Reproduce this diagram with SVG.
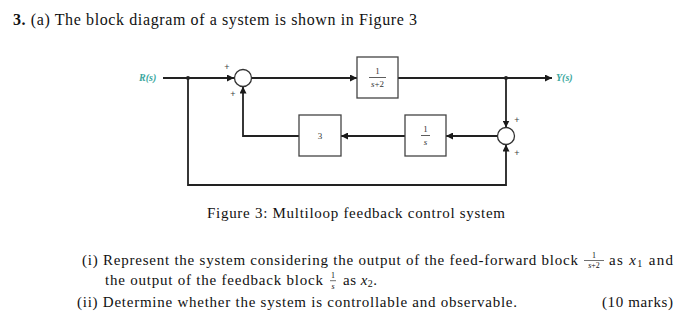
<svg xmlns="http://www.w3.org/2000/svg" width="689" height="318" viewBox="0 0 689 318">
<defs>
<marker id="ah" viewBox="0 0 10 10" refX="10" refY="5" markerWidth="7" markerHeight="7" markerUnits="userSpaceOnUse" orient="auto">
<path d="M0,0 L10,5 L0,10 z" fill="#1a1a1a"/>
</marker>
<style>
.t{font-family:"Liberation Serif","Times New Roman",serif;fill:#111}
.body{font-size:15px}
.ln{stroke:#222;stroke-width:1.8;fill:none}
.blk{stroke:#444;stroke-width:1.3;fill:#fff}
.sum{stroke:#333;stroke-width:1.3;fill:#fff}
.sig{font-family:"Liberation Serif","Times New Roman",serif;font-style:italic;font-weight:bold;font-size:10px;fill:#3aa79e}
.bt{font-family:"Liberation Serif","Times New Roman",serif;font-size:9px;fill:#333;text-anchor:middle}
.pl{font-family:"Liberation Sans",Arial,sans-serif;font-size:9px;fill:#444;text-anchor:middle}
</style>
</defs>
<rect width="689" height="318" fill="#fff"/>

<text class="t" x="13" y="25" font-size="16" textLength="404" lengthAdjust="spacing"><tspan font-weight="bold">3.</tspan> (a) The block diagram of a system is shown in Figure 3</text>

<g id="connectors">
<path class="ln" d="M163,78 H234" marker-end="url(#ah)"/>
<path class="ln" d="M251.5,78 H357" marker-end="url(#ah)"/>
<path class="ln" d="M398,78 H552" marker-end="url(#ah)"/>
<path class="ln" d="M506,78 V127.5" marker-end="url(#ah)"/>
<path class="ln" d="M497.5,136 H446" marker-end="url(#ah)"/>
<path class="ln" d="M405,136 H341" marker-end="url(#ah)"/>
<path class="ln" d="M299,136 H243 V86.5" marker-end="url(#ah)"/>
<path class="ln" d="M188,78 V185 H506 V144.5" marker-end="url(#ah)"/>
<circle cx="188" cy="78" r="2" fill="#222"/>
<circle cx="506" cy="78" r="2" fill="#222"/>
</g>

<g id="input"><text class="sig" x="139" y="81">R(s)</text></g>
<g id="output"><text class="sig" x="556" y="81">Y(s)</text></g>

<g id="sum1">
<circle class="sum" cx="243" cy="78" r="8.5"/>
<text class="pl" x="227" y="70">+</text>
<text class="pl" x="233" y="97">+</text>
</g>

<g id="block-ff">
<rect class="blk" x="357" y="57" width="41" height="41"/>
<text class="bt" x="377.5" y="74">1</text>
<line x1="369" y1="77.5" x2="386" y2="77.5" stroke="#333" stroke-width="0.8"/>
<text class="bt" x="377.5" y="87" font-style="italic">s<tspan font-style="normal">+2</tspan></text>
</g>

<g id="sum2">
<circle class="sum" cx="506" cy="136" r="8.5"/>
<text class="pl" x="517" y="123">+</text>
<text class="pl" x="517" y="156">+</text>
</g>

<g id="block-int">
<rect class="blk" x="405" y="115" width="41" height="41"/>
<text class="bt" x="425.5" y="132">1</text>
<line x1="421" y1="135.5" x2="430" y2="135.5" stroke="#333" stroke-width="0.8"/>
<text class="bt" x="425.5" y="145" font-style="italic">s</text>
</g>

<g id="block-gain">
<rect class="blk" x="299" y="115" width="42" height="41"/>
<text class="bt" x="320" y="139">3</text>
</g>

<text class="t" x="207" y="218" font-size="15" textLength="298" lengthAdjust="spacing">Figure 3: Multiloop feedback control system</text>

<g id="question">
<text class="t body" x="82" y="265" textLength="496" lengthAdjust="spacing">(i) Represent the system considering the output of the feed-forward block</text>
<text class="t" x="594" y="258" font-size="8" text-anchor="middle">1</text>
<line x1="584" y1="260.5" x2="604" y2="260.5" stroke="#111" stroke-width="0.6"/>
<text class="t" x="594" y="268" font-size="8" text-anchor="middle"><tspan font-style="italic">s</tspan>+2</text>
<text class="t body" x="609" y="265" textLength="64" lengthAdjust="spacing">as <tspan font-style="italic">x</tspan><tspan font-size="10" dy="2">1</tspan><tspan dy="-2"> and</tspan></text>

<text class="t body" x="105" y="285" textLength="218" lengthAdjust="spacing">the output of the feedback block</text>
<text class="t" x="333" y="278" font-size="8" text-anchor="middle">1</text>
<line x1="330" y1="280.7" x2="336" y2="280.7" stroke="#111" stroke-width="0.6"/>
<text class="t" x="333" y="289" font-size="8" text-anchor="middle" font-style="italic">s</text>
<text class="t body" x="343" y="285" textLength="34" lengthAdjust="spacing">as <tspan font-style="italic">x</tspan><tspan font-size="10" dy="2">2</tspan><tspan dy="-2">.</tspan></text>

<text class="t body" x="77" y="307" textLength="440" lengthAdjust="spacing">(ii) Determine whether the system is controllable and observable.</text>
<text class="t body" x="602" y="307" textLength="71" lengthAdjust="spacing">(10 marks)</text>
</g>
</svg>
